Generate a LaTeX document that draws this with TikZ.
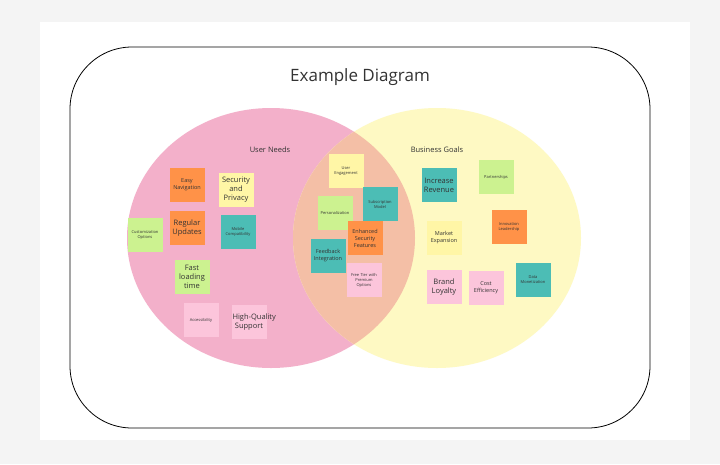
\documentclass[tikz,border=0pt]{standalone}
\usepackage{fontspec}
\setmainfont{Open Sans}
\hyphenpenalty=10000
\exhyphenpenalty=10000
\definecolor{bg}{HTML}{F4F4F4}
\definecolor{pinkc}{HTML}{F3B0CA}
\definecolor{yelc}{HTML}{FEF9C3}
\definecolor{ovl}{HTML}{F4BFA6}
\definecolor{sor}{HTML}{FF9248}
\definecolor{sye}{HTML}{FFF6A6}
\definecolor{ste}{HTML}{4CBDB5}
\definecolor{sgr}{HTML}{CCF290}
\definecolor{spi}{HTML}{FCC5DB}
\definecolor{txt}{HTML}{333333}
\tikzset{
 sn/.style={minimum width=34pt,minimum height=34pt,inner sep=1pt,align=center,text width=33pt,text=txt},
 big/.style={sn,font=\fontsize{7.5}{9}\selectfont},
 mid/.style={sn,font=\fontsize{5.5}{7}\selectfont},
 tiny/.style={sn,font=\fontsize{4}{5}\selectfont},
}
\begin{document}
\begin{tikzpicture}[x=1pt,y=-1pt]
\useasboundingbox (0,0) rectangle (720,464);
\fill[bg] (0,0) rectangle (720,464);
\fill[white] (40,22) rectangle (690,440);
\draw[black,line width=0.8pt,fill=white,rounded corners=62pt] (70,47) rectangle (650,428);
\node[font=\fontsize{17}{20}\selectfont,text=txt] (title) at (360,77) {Example Diagram};
\fill[pinkc] (271,238) ellipse (144 and 130);
\fill[yelc] (437,238) ellipse (144 and 130);
\begin{scope}
\clip (271,238) ellipse (144 and 130);
\fill[ovl] (437,238) ellipse (144 and 130);
\end{scope}
\node[font=\fontsize{7.5}{9}\selectfont,text=txt] (un) at (270,150) {User Needs};
\node[font=\fontsize{7.5}{9}\selectfont,text=txt] (bg) at (437,150) {Business Goals};
\node[mid,fill=sor] (n1) at (187,185) {Easy Navigation};
\node[big,fill=sye] (n2) at (236,190) {Security and Privacy};
\node[big,fill=sor] (n3) at (187,228) {Regular Updates};
\node[tiny,fill=ste] (n4) at (238,232) {Mobile Compatibility};
\node[tiny,fill=sgr] (n5) at (145,235) {Customization Options};
\node[big,fill=sgr] (n6) at (192,277) {Fast loading time};
\node[tiny,fill=spi] (n7) at (201,320) {Accessibility};
\node[big,fill=spi] (n8) at (249,322) {High-Quality Support};
\node[tiny,fill=sye] (n9) at (346,171) {User Engagement};
\node[tiny,fill=sgr] (n11) at (335,213) {Personalization};
\node[tiny,fill=ste] (n10) at (380,204) {Subscription Model};
\node[mid,fill=sor] (n12) at (365,238) {Enhanced Security Features};
\node[mid,fill=ste] (n13) at (328,256) {Feedback Integration};
\node[tiny,fill=spi] (n14) at (364,280) {Free Tier with Premium Options};
\node[big,fill=ste] (n15) at (439,185) {Increase Revenue};
\node[tiny,fill=sgr] (n16) at (496,177) {Partnerships};
\node[tiny,fill=sor] (n17) at (509,227) {Innovation Leadership};
\node[mid,fill=sye] (n18) at (444,238) {Market Expansion};
\node[big,fill=spi] (n19) at (444,287) {Brand Loyalty};
\node[mid,fill=spi] (n20) at (486,288) {Cost Efficiency};
\node[tiny,fill=ste] (n21) at (533,280) {Data Monetization};
\end{tikzpicture}
\end{document}
